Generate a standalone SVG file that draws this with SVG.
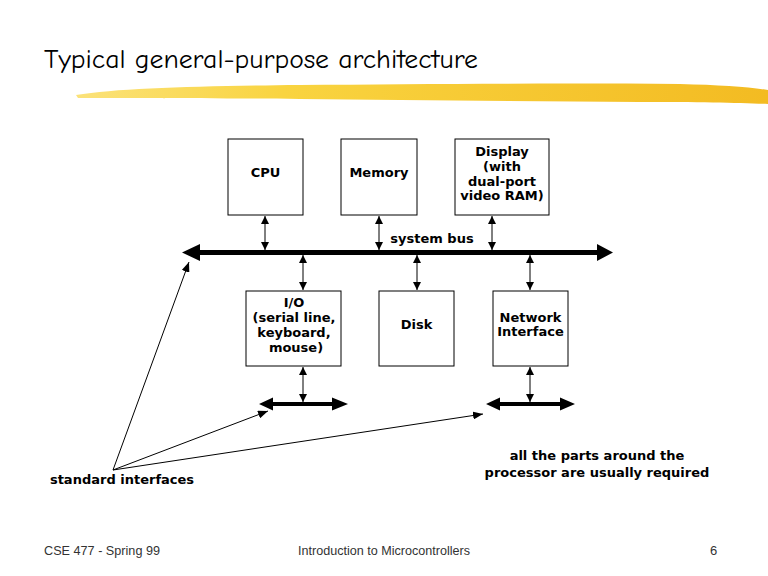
<svg xmlns="http://www.w3.org/2000/svg" width="768" height="576" viewBox="0 0 768 576">
<defs>
<style>
.box{fill:#fff;stroke:#000;stroke-width:1}
.lbl{font-family:"DejaVu Sans","Liberation Sans",Arial,sans-serif;font-weight:bold;font-size:13px;text-anchor:middle;fill:#000}
.thin{stroke:#000;stroke-width:1;fill:none}
.foot{font-family:"Liberation Sans Narrow","Liberation Sans",Arial,sans-serif;font-size:13px;fill:#333}
</style>
<marker id="ah" viewBox="0 0 8 8" refX="8" refY="4" markerWidth="8" markerHeight="8" markerUnits="userSpaceOnUse" orient="auto-start-reverse">
<path d="M0,0 L8,4 L0,8 z" fill="#000"/>
</marker>
<marker id="ah2" viewBox="0 0 10 8" refX="10" refY="4" markerWidth="10" markerHeight="8" markerUnits="userSpaceOnUse" orient="auto">
<path d="M0,0 L10,4 L0,8 z" fill="#000"/>
</marker>
<linearGradient id="brush" x1="0" y1="0" x2="1" y2="0">
<stop offset="0" stop-color="#fbe27a"/>
<stop offset="0.3" stop-color="#f9d440"/>
<stop offset="1" stop-color="#f3bb22"/>
</linearGradient>
</defs>
<rect width="768" height="576" fill="#fff"/>
<text x="44" y="68" font-family="'Comic Neue','DejaVu Sans',sans-serif" font-size="27" textLength="434" lengthAdjust="spacingAndGlyphs" fill="#000">Typical general-purpose architecture</text>
<path d="M76,95 C120,88 200,86 300,85 C420,84 560,83 680,84 C720,85 750,87 768,90 L768,104 C740,103 700,102 640,102 C520,101 400,100 300,99 C200,98 120,98 78,98 Z" fill="url(#brush)"/>
<g id="cpu"><rect class="box" x="228" y="139" width="75" height="76"/><text class="lbl" x="265.5" y="177">CPU</text></g>
<g id="memory"><rect class="box" x="341" y="139" width="76" height="76"/><text class="lbl" x="379" y="177">Memory</text></g>
<g id="display"><rect class="box" x="455" y="139" width="94" height="76"/><text class="lbl" x="502" y="156">Display</text><text class="lbl" x="502" y="171">(with</text><text class="lbl" x="502" y="186">dual-port</text><text class="lbl" x="502" y="200">video RAM)</text></g>
<g id="io"><rect class="box" x="246" y="291" width="95" height="75"/><text class="lbl" x="294" y="307">I/O</text><text class="lbl" x="294" y="322">(serial line,</text><text class="lbl" x="294" y="337">keyboard,</text><text class="lbl" x="296" y="352">mouse)</text></g>
<g id="disk"><rect class="box" x="379" y="291" width="75" height="75"/><text class="lbl" x="416.5" y="329">Disk</text></g>
<g id="network"><rect class="box" x="493" y="291" width="75" height="75"/><text class="lbl" x="530.5" y="322">Network</text><text class="lbl" x="530.5" y="336">Interface</text></g>
<g id="connectors">
<line x1="199" y1="252.5" x2="598" y2="252.5" stroke="#000" stroke-width="5"/>
<path d="M182,252.5 L200,244 L200,261 Z M613,252.5 L597,244 L597,261 Z" fill="#000"/>
<text class="lbl" x="432" y="243">system bus</text>
<line class="thin" x1="265" y1="216" x2="265" y2="250" marker-start="url(#ah)" marker-end="url(#ah)"/>
<line class="thin" x1="379" y1="216" x2="379" y2="250" marker-start="url(#ah)" marker-end="url(#ah)"/>
<line class="thin" x1="492" y1="216" x2="492" y2="250" marker-start="url(#ah)" marker-end="url(#ah)"/>
<line class="thin" x1="303" y1="255" x2="303" y2="290" marker-start="url(#ah)" marker-end="url(#ah)"/>
<line class="thin" x1="417" y1="255" x2="417" y2="290" marker-start="url(#ah)" marker-end="url(#ah)"/>
<line class="thin" x1="530" y1="255" x2="530" y2="290" marker-start="url(#ah)" marker-end="url(#ah)"/>
<line x1="272" y1="404" x2="333" y2="404" stroke="#000" stroke-width="4"/>
<path d="M259,404 L273,397.5 L273,410.5 Z M348,404 L332,397.5 L332,410.5 Z" fill="#000"/>
<line x1="499" y1="404" x2="561" y2="404" stroke="#000" stroke-width="4"/>
<path d="M486,404 L500,397.5 L500,410.5 Z M575,404 L560,397.5 L560,410.5 Z" fill="#000"/>
<line class="thin" x1="303" y1="367" x2="303" y2="402" marker-start="url(#ah)" marker-end="url(#ah)"/>
<line class="thin" x1="530" y1="367" x2="530" y2="402" marker-start="url(#ah)" marker-end="url(#ah)"/>
<line class="thin" x1="113" y1="470" x2="189" y2="262" marker-end="url(#ah2)"/>
<line class="thin" x1="113" y1="470" x2="268" y2="411" marker-end="url(#ah2)"/>
<line class="thin" x1="113" y1="470" x2="483" y2="414" marker-end="url(#ah2)"/>
</g>
<text class="lbl" x="122" y="484">standard interfaces</text>
<text class="lbl" x="597" y="460">all the parts around the</text>
<text class="lbl" x="597" y="477">processor are usually required</text>
<text class="foot" x="44" y="555" textLength="116" lengthAdjust="spacingAndGlyphs">CSE 477 - Spring 99</text>
<text class="foot" x="298" y="555" textLength="172" lengthAdjust="spacingAndGlyphs">Introduction to Microcontrollers</text>
<text class="foot" x="710" y="555">6</text>
</svg>
